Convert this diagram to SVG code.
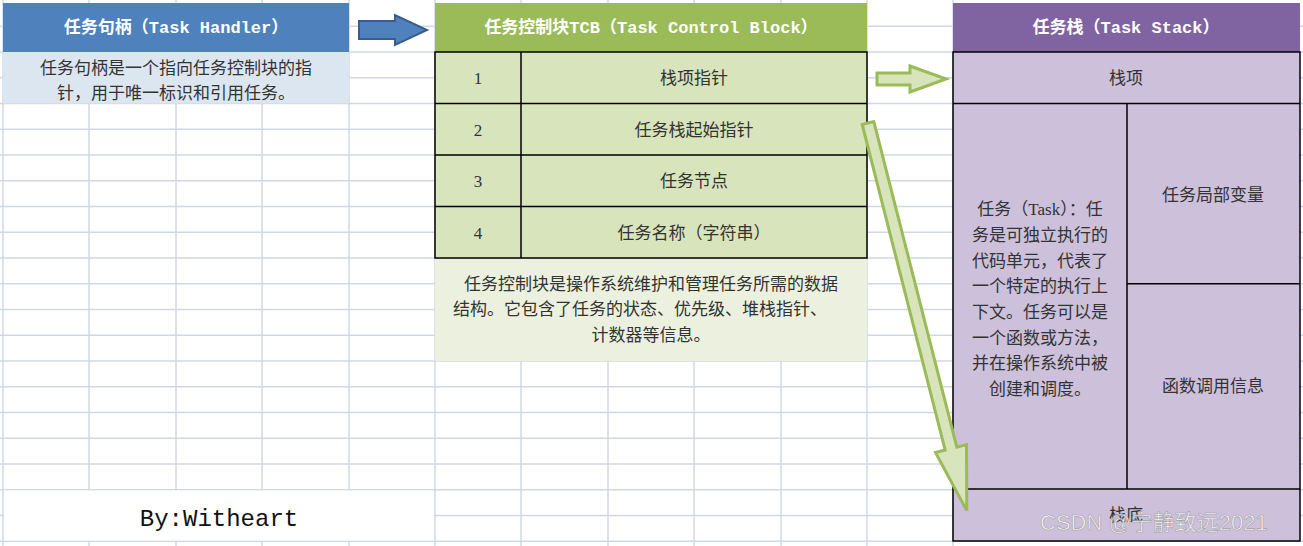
<svg xmlns="http://www.w3.org/2000/svg" width="1303" height="546" viewBox="0 0 1303 546">
<style>
.grid line{stroke:#d0d7e5;stroke-width:1.5}
.cn{font-family:"Liberation Serif","Noto Sans CJK SC",serif;font-size:17px;fill:#333;text-anchor:middle}
.hd{font-family:"Liberation Mono","Noto Sans CJK SC",monospace;font-size:17px;font-weight:bold;fill:#fff;text-anchor:middle}
.cell{stroke:#000;stroke-width:1.5}
</style>
<rect width="1303" height="546" fill="#fff"/>
<g class="grid">
<line x1="3" y1="0" x2="3" y2="546"/><line x1="89" y1="0" x2="89" y2="546"/><line x1="176" y1="0" x2="176" y2="546"/><line x1="262" y1="0" x2="262" y2="546"/><line x1="349" y1="0" x2="349" y2="546"/><line x1="435" y1="0" x2="435" y2="546"/><line x1="521" y1="0" x2="521" y2="546"/><line x1="608" y1="0" x2="608" y2="546"/><line x1="694" y1="0" x2="694" y2="546"/><line x1="781" y1="0" x2="781" y2="546"/><line x1="867" y1="0" x2="867" y2="546"/><line x1="953" y1="0" x2="953" y2="546"/>
<line x1="0" y1="26.2" x2="1303" y2="26.2"/><line x1="0" y1="52" x2="1303" y2="52"/><line x1="0" y1="77.7" x2="1303" y2="77.7"/><line x1="0" y1="103.5" x2="1303" y2="103.5"/><line x1="0" y1="129.2" x2="1303" y2="129.2"/><line x1="0" y1="155" x2="1303" y2="155"/><line x1="0" y1="180.7" x2="1303" y2="180.7"/><line x1="0" y1="206.5" x2="1303" y2="206.5"/><line x1="0" y1="232.2" x2="1303" y2="232.2"/><line x1="0" y1="258" x2="1303" y2="258"/><line x1="0" y1="283.7" x2="1303" y2="283.7"/><line x1="0" y1="309.5" x2="1303" y2="309.5"/><line x1="0" y1="335.2" x2="1303" y2="335.2"/><line x1="0" y1="361" x2="1303" y2="361"/><line x1="0" y1="386.7" x2="1303" y2="386.7"/><line x1="0" y1="412.5" x2="1303" y2="412.5"/><line x1="0" y1="438.2" x2="1303" y2="438.2"/><line x1="0" y1="464" x2="1303" y2="464"/><line x1="0" y1="489.7" x2="1303" y2="489.7"/><line x1="0" y1="515.5" x2="1303" y2="515.5"/><line x1="0" y1="541.2" x2="1303" y2="541.2"/>
</g>
<rect x="4" y="490.5" width="430" height="50" fill="#fff"/>
<g id="handler">
<rect x="3" y="3" width="346" height="49" fill="#4f81bd"/>
<text class="hd" x="176" y="33">任务句柄（Task Handler）</text>
<rect x="3" y="52" width="346" height="51.5" fill="#dce6f1"/>
<text class="cn" x="176" y="74">任务句柄是一个指向任务控制块的指</text>
<text class="cn" x="176" y="99">针，用于唯一标识和引用任务。</text>
</g>
<g id="tcb">
<rect x="435" y="3" width="432" height="49" fill="#9bbb59"/>
<text class="hd" x="651" y="33">任务控制块TCB（Task Control Block）</text>
<rect class="cell" x="435" y="52" width="432" height="206" fill="#d8e4bc"/>
<line class="cell" x1="521" y1="52" x2="521" y2="258"/>
<line class="cell" x1="435" y1="103.5" x2="867" y2="103.5"/>
<line class="cell" x1="435" y1="155" x2="867" y2="155"/>
<line class="cell" x1="435" y1="206.5" x2="867" y2="206.5"/>
<text class="cn" x="478" y="84">1</text><text class="cn" x="694" y="84">栈项指针</text>
<text class="cn" x="478" y="136">2</text><text class="cn" x="694" y="136">任务栈起始指针</text>
<text class="cn" x="478" y="187">3</text><text class="cn" x="694" y="187">任务节点</text>
<text class="cn" x="478" y="239">4</text><text class="cn" x="694" y="239">任务名称（字符串）</text>
<rect x="435" y="259" width="432" height="102" fill="#ebf1de"/>
<text class="cn" x="651" y="290">任务控制块是操作系统维护和管理任务所需的数据</text>
<text class="cn" x="640" y="315">结构。它包含了任务的状态、优先级、堆栈指针、</text>
<text class="cn" x="651" y="341">计数器等信息。</text>
</g>
<g id="stack">
<rect x="953" y="3" width="347" height="49" fill="#8064a2"/>
<text class="hd" x="1126" y="33">任务栈（Task Stack）</text>
<rect class="cell" x="953" y="52" width="347" height="489" fill="#ccc0da"/>
<line class="cell" x1="953" y1="103.5" x2="1300" y2="103.5"/>
<line class="cell" x1="953" y1="489" x2="1300" y2="489"/>
<line class="cell" x1="1127" y1="103.5" x2="1127" y2="489"/>
<line class="cell" x1="1127" y1="283.7" x2="1300" y2="283.7"/>
<text class="cn" x="1126" y="84">栈项</text>
<text class="cn" x="1213" y="201">任务局部变量</text>
<text class="cn" x="1213" y="392">函数调用信息</text>
<text class="cn" x="1126" y="521">栈底</text>
<g class="cn">
<text x="1040" y="215">任务（Task）：任</text>
<text x="1040" y="241">务是可独立执行的</text>
<text x="1040" y="267">代码单元，代表了</text>
<text x="1040" y="292">一个特定的执行上</text>
<text x="1040" y="318">下文。任务可以是</text>
<text x="1040" y="344">一个函数或方法，</text>
<text x="1040" y="369">并在操作系统中被</text>
<text x="1040" y="395">创建和调度。</text>
</g>
</g>
<g id="author">
<text x="219" y="526" font-family="Liberation Mono,monospace" font-size="24" text-anchor="middle" fill="#111">By:Witheart</text>
</g>
<g id="connectors">
<path d="M359,21 H395 V15 L427,30 L395,45 V39 H359 Z" fill="#4f81bd" stroke="#385d8a" stroke-width="2"/>
<path d="M877,73 H910 V66 L946,79 L910,92 V85 H877 Z" fill="#d8e4bc" stroke="#9bbb59" stroke-width="3"/>
<path transform="translate(868,123) rotate(-14.3)" d="M-6,0 H6 V336 H16 L0,400 L-16,336 H-6 Z" fill="#d8e4bc" stroke="#9bbb59" stroke-width="3"/>
</g>
<text x="1040" y="530" font-family="Liberation Sans,Noto Sans CJK SC,sans-serif" font-size="22" fill="#fff" stroke="#999" stroke-width="0.6" opacity="0.85">CSDN @宁静致远2021</text>
</svg>
